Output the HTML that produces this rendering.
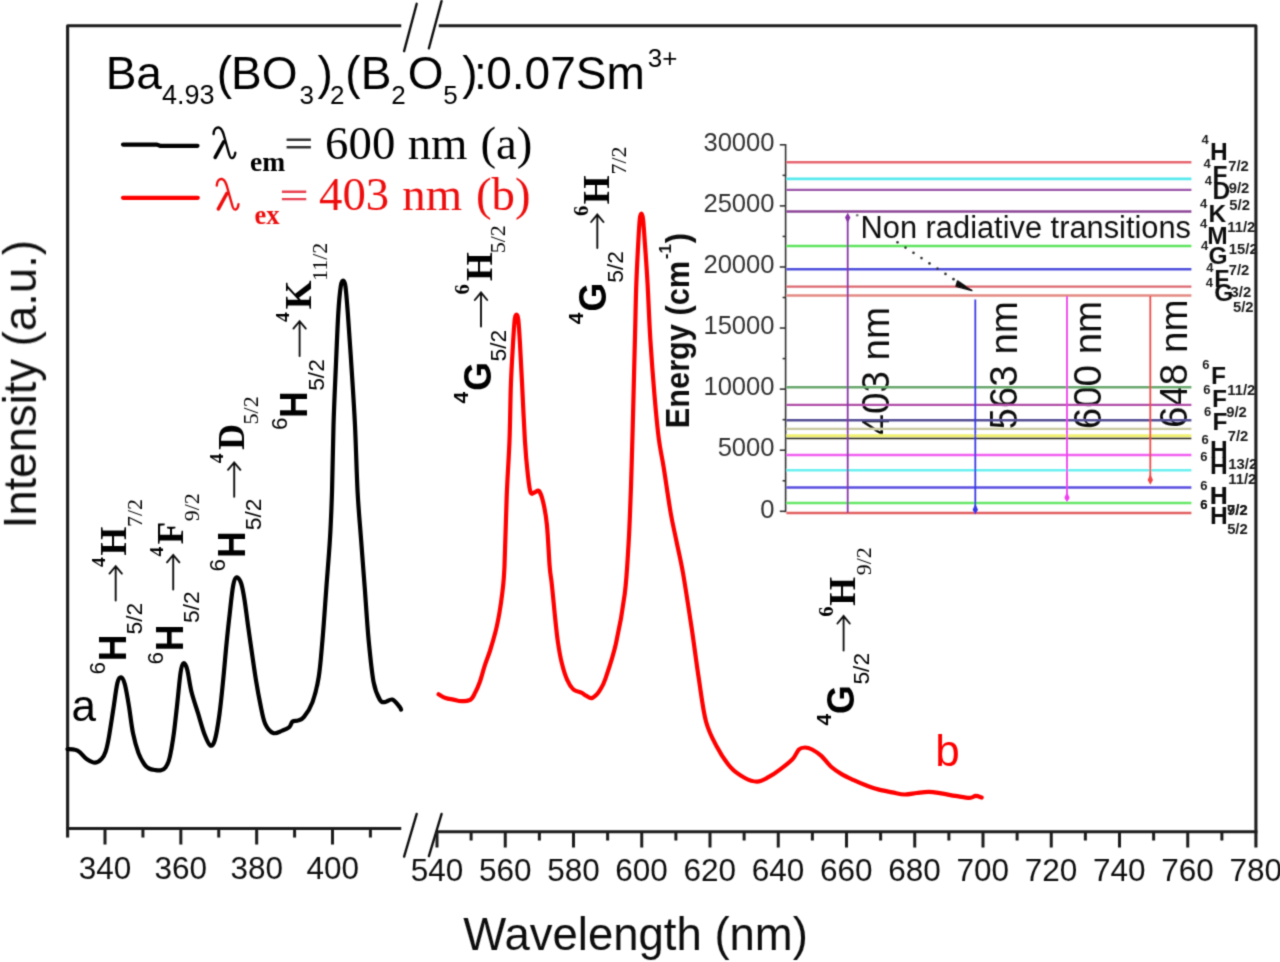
<!DOCTYPE html>
<html><head><meta charset="utf-8"><title>Ba4.93(BO3)2(B2O5):0.07Sm3+ spectra</title>
<style>html,body{margin:0;padding:0;background:#fff;} svg{display:block;will-change:transform;}</style></head>
<body><svg width="1280" height="962" viewBox="0 0 1280 962">
<defs><filter id="soft" x="0" y="0" width="1280" height="962" filterUnits="userSpaceOnUse"><feConvolveMatrix order="3" kernelMatrix="0.02768 0.11101 0.02768 0.11101 0.44521 0.11101 0.02768 0.11101 0.02768" divisor="1" edgeMode="none"/></filter></defs>
<rect x="0" y="0" width="1280" height="962" fill="#fff"/>
<g filter="url(#soft)">
<path d="M401.2,25.7 H67.6 V837.5" fill="none" stroke="#1c1c1c" stroke-width="3.1" stroke-linejoin="round"/>
<path d="M438.8,25.7 H1255.9 V847.5" fill="none" stroke="#1c1c1c" stroke-width="3.1" stroke-linejoin="round"/>
<line x1="66.10" y1="828.60" x2="401.20" y2="828.60" stroke="#1c1c1c" stroke-width="3.0" />
<line x1="436.50" y1="831.70" x2="1257.40" y2="831.70" stroke="#1c1c1c" stroke-width="3.0" />
<line x1="416.70" y1="3.80" x2="404.10" y2="51.10" stroke="#111" stroke-width="2.4" stroke-linecap="round"/>
<line x1="441.60" y1="0.90" x2="428.90" y2="48.30" stroke="#111" stroke-width="2.4" stroke-linecap="round"/>
<line x1="416.70" y1="813.90" x2="404.10" y2="856.60" stroke="#111" stroke-width="2.4" stroke-linecap="round"/>
<line x1="441.60" y1="813.90" x2="428.90" y2="856.10" stroke="#111" stroke-width="2.4" stroke-linecap="round"/>
<line x1="105.00" y1="828.60" x2="105.00" y2="844.50" stroke="#1c1c1c" stroke-width="3.0" />
<text x="78.74" y="879.00" font-family="Liberation Sans" font-weight="normal" font-size="31.5" fill="#111" >340</text>
<line x1="142.91" y1="828.60" x2="142.91" y2="837.50" stroke="#1c1c1c" stroke-width="3.0" />
<line x1="180.83" y1="828.60" x2="180.83" y2="844.50" stroke="#1c1c1c" stroke-width="3.0" />
<text x="154.57" y="879.00" font-family="Liberation Sans" font-weight="normal" font-size="31.5" fill="#111" >360</text>
<line x1="218.75" y1="828.60" x2="218.75" y2="837.50" stroke="#1c1c1c" stroke-width="3.0" />
<line x1="256.66" y1="828.60" x2="256.66" y2="844.50" stroke="#1c1c1c" stroke-width="3.0" />
<text x="230.40" y="879.00" font-family="Liberation Sans" font-weight="normal" font-size="31.5" fill="#111" >380</text>
<line x1="294.58" y1="828.60" x2="294.58" y2="837.50" stroke="#1c1c1c" stroke-width="3.0" />
<line x1="332.49" y1="828.60" x2="332.49" y2="844.50" stroke="#1c1c1c" stroke-width="3.0" />
<text x="306.47" y="879.00" font-family="Liberation Sans" font-weight="normal" font-size="31.5" fill="#111" >400</text>
<line x1="370.41" y1="828.60" x2="370.41" y2="837.50" stroke="#1c1c1c" stroke-width="3.0" />
<line x1="437.00" y1="831.70" x2="437.00" y2="847.50" stroke="#1c1c1c" stroke-width="3.0" />
<text x="410.71" y="881.00" font-family="Liberation Sans" font-weight="normal" font-size="31.5" fill="#111" >540</text>
<line x1="471.12" y1="831.70" x2="471.12" y2="840.50" stroke="#1c1c1c" stroke-width="3.0" />
<line x1="505.25" y1="831.70" x2="505.25" y2="847.50" stroke="#1c1c1c" stroke-width="3.0" />
<text x="478.96" y="881.00" font-family="Liberation Sans" font-weight="normal" font-size="31.5" fill="#111" >560</text>
<line x1="539.38" y1="831.70" x2="539.38" y2="840.50" stroke="#1c1c1c" stroke-width="3.0" />
<line x1="573.50" y1="831.70" x2="573.50" y2="847.50" stroke="#1c1c1c" stroke-width="3.0" />
<text x="547.21" y="881.00" font-family="Liberation Sans" font-weight="normal" font-size="31.5" fill="#111" >580</text>
<line x1="607.62" y1="831.70" x2="607.62" y2="840.50" stroke="#1c1c1c" stroke-width="3.0" />
<line x1="641.75" y1="831.70" x2="641.75" y2="847.50" stroke="#1c1c1c" stroke-width="3.0" />
<text x="615.29" y="881.00" font-family="Liberation Sans" font-weight="normal" font-size="31.5" fill="#111" >600</text>
<line x1="675.88" y1="831.70" x2="675.88" y2="840.50" stroke="#1c1c1c" stroke-width="3.0" />
<line x1="710.00" y1="831.70" x2="710.00" y2="847.50" stroke="#1c1c1c" stroke-width="3.0" />
<text x="683.54" y="881.00" font-family="Liberation Sans" font-weight="normal" font-size="31.5" fill="#111" >620</text>
<line x1="744.12" y1="831.70" x2="744.12" y2="840.50" stroke="#1c1c1c" stroke-width="3.0" />
<line x1="778.25" y1="831.70" x2="778.25" y2="847.50" stroke="#1c1c1c" stroke-width="3.0" />
<text x="751.79" y="881.00" font-family="Liberation Sans" font-weight="normal" font-size="31.5" fill="#111" >640</text>
<line x1="812.38" y1="831.70" x2="812.38" y2="840.50" stroke="#1c1c1c" stroke-width="3.0" />
<line x1="846.50" y1="831.70" x2="846.50" y2="847.50" stroke="#1c1c1c" stroke-width="3.0" />
<text x="820.04" y="881.00" font-family="Liberation Sans" font-weight="normal" font-size="31.5" fill="#111" >660</text>
<line x1="880.62" y1="831.70" x2="880.62" y2="840.50" stroke="#1c1c1c" stroke-width="3.0" />
<line x1="914.75" y1="831.70" x2="914.75" y2="847.50" stroke="#1c1c1c" stroke-width="3.0" />
<text x="888.29" y="881.00" font-family="Liberation Sans" font-weight="normal" font-size="31.5" fill="#111" >680</text>
<line x1="948.88" y1="831.70" x2="948.88" y2="840.50" stroke="#1c1c1c" stroke-width="3.0" />
<line x1="983.00" y1="831.70" x2="983.00" y2="847.50" stroke="#1c1c1c" stroke-width="3.0" />
<text x="956.53" y="881.00" font-family="Liberation Sans" font-weight="normal" font-size="31.5" fill="#111" >700</text>
<line x1="1017.12" y1="831.70" x2="1017.12" y2="840.50" stroke="#1c1c1c" stroke-width="3.0" />
<line x1="1051.25" y1="831.70" x2="1051.25" y2="847.50" stroke="#1c1c1c" stroke-width="3.0" />
<text x="1024.78" y="881.00" font-family="Liberation Sans" font-weight="normal" font-size="31.5" fill="#111" >720</text>
<line x1="1085.38" y1="831.70" x2="1085.38" y2="840.50" stroke="#1c1c1c" stroke-width="3.0" />
<line x1="1119.50" y1="831.70" x2="1119.50" y2="847.50" stroke="#1c1c1c" stroke-width="3.0" />
<text x="1093.03" y="881.00" font-family="Liberation Sans" font-weight="normal" font-size="31.5" fill="#111" >740</text>
<line x1="1153.62" y1="831.70" x2="1153.62" y2="840.50" stroke="#1c1c1c" stroke-width="3.0" />
<line x1="1187.75" y1="831.70" x2="1187.75" y2="847.50" stroke="#1c1c1c" stroke-width="3.0" />
<text x="1161.28" y="881.00" font-family="Liberation Sans" font-weight="normal" font-size="31.5" fill="#111" >760</text>
<line x1="1221.88" y1="831.70" x2="1221.88" y2="840.50" stroke="#1c1c1c" stroke-width="3.0" />
<text x="1229.53" y="881.00" font-family="Liberation Sans" font-weight="normal" font-size="31.5" fill="#111" >780</text>
<text x="463.20" y="950.00" font-family="Liberation Sans" font-weight="normal" font-size="45.5" fill="#111" >Wavelength (nm)</text>
<text transform="translate(35.90,528.40) rotate(-90)" font-family="Liberation Sans" font-weight="normal" font-size="45.5" fill="#111">Intensity (a.u.)</text>
<text x="105.63" y="88.60" font-family="Liberation Sans" font-weight="normal" font-size="46" fill="#000" >Ba</text>
<text x="162.08" y="103.80" font-family="Liberation Sans" font-weight="normal" font-size="27" fill="#000" >4.93</text>
<text x="216.65" y="88.60" font-family="Liberation Sans" font-weight="normal" font-size="46" fill="#000" >(</text>
<text x="231.03" y="88.60" font-family="Liberation Sans" font-weight="normal" font-size="46" fill="#000" >BO</text>
<text x="299.41" y="103.80" font-family="Liberation Sans" font-weight="normal" font-size="26" fill="#000" >3</text>
<text x="317.53" y="88.60" font-family="Liberation Sans" font-weight="normal" font-size="46" fill="#000" >)</text>
<text x="329.99" y="103.80" font-family="Liberation Sans" font-weight="normal" font-size="26" fill="#000" >2</text>
<text x="345.25" y="88.60" font-family="Liberation Sans" font-weight="normal" font-size="46" fill="#000" >(</text>
<text x="360.63" y="88.60" font-family="Liberation Sans" font-weight="normal" font-size="46" fill="#000" >B</text>
<text x="391.19" y="103.80" font-family="Liberation Sans" font-weight="normal" font-size="26" fill="#000" >2</text>
<text x="407.82" y="88.60" font-family="Liberation Sans" font-weight="normal" font-size="46" fill="#000" >O</text>
<text x="443.36" y="103.80" font-family="Liberation Sans" font-weight="normal" font-size="26" fill="#000" >5</text>
<text x="462.23" y="88.60" font-family="Liberation Sans" font-weight="normal" font-size="46" fill="#000" >)</text>
<text x="473.90" y="88.60" font-family="Liberation Sans" font-weight="normal" font-size="46" fill="#000" >:</text>
<text x="486.20" y="88.60" font-family="Liberation Sans" font-weight="normal" font-size="46" fill="#000" >0.07Sm</text>
<text x="647.71" y="67.00" font-family="Liberation Sans" font-weight="normal" font-size="26" fill="#000" >3+</text>
<path d="M123,144.6 H157 L160,145.8 H197.5" fill="none" stroke="#000" stroke-width="4.2" stroke-linecap="round" stroke-linejoin="round"/>
<line x1="123.00" y1="197.80" x2="197.80" y2="197.80" stroke="#ff0000" stroke-width="4.2" stroke-linecap="round"/>
<g transform="translate(0,0)" fill="none" stroke="#000" stroke-linecap="round"><path d="M213.6,134 C213.6,129.5 216,127.2 218.7,127.5 C221,127.8 222.3,130.5 223.5,134 L228.5,152 C229.5,156 230.5,158.3 232,158.1 C233.8,157.8 235,155.5 235.3,152.6" stroke-width="2.4"/><path d="M223.6,142 L215.2,157.4" stroke-width="3.6"/></g>
<text x="249.96" y="171.40" font-family="Liberation Serif" font-weight="bold" font-size="27.5" fill="#000" >em</text>
<path d="M286.6,139.7 H310.9 M286.6,147.2 H310.9" stroke="#333" stroke-width="2.4"/>
<text x="325.09" y="158.60" font-family="Liberation Serif" font-weight="normal" font-size="46.8" fill="#000" >600</text>
<text x="407.73" y="158.60" font-family="Liberation Serif" font-weight="normal" font-size="46.8" fill="#000" >nm</text>
<text x="480.44" y="158.60" font-family="Liberation Serif" font-weight="normal" font-size="46.8" fill="#000" >(a)</text>
<g transform="translate(3.2,51.5)" fill="none" stroke="#ee1111" stroke-linecap="round"><path d="M213.6,134 C213.6,129.5 216,127.2 218.7,127.5 C221,127.8 222.3,130.5 223.5,134 L228.5,152 C229.5,156 230.5,158.3 232,158.1 C233.8,157.8 235,155.5 235.3,152.6" stroke-width="2.4"/><path d="M223.6,142 L215.2,157.4" stroke-width="3.6"/></g>
<text x="254.39" y="223.60" font-family="Liberation Serif" font-weight="bold" font-size="26.5" fill="#ee1111" >ex</text>
<path d="M281.9,191.75 H306.25 M281.9,199.1 H306.25" stroke="#e84050" stroke-width="2.4"/>
<text x="318.99" y="209.50" font-family="Liberation Serif" font-weight="normal" font-size="46.8" fill="#ee1111" >403</text>
<text x="402.33" y="209.50" font-family="Liberation Serif" font-weight="normal" font-size="46.8" fill="#ee1111" >nm</text>
<text x="475.94" y="209.50" font-family="Liberation Serif" font-weight="normal" font-size="46.8" fill="#ee1111" >(b)</text>
<text x="71.43" y="720.70" font-family="Liberation Sans" font-weight="normal" font-size="44" fill="#000" >a</text>
<text x="935.16" y="766.00" font-family="Liberation Sans" font-weight="normal" font-size="44" fill="#ff0000" >b</text>
<path d="M67.5,749.0 C68.8,749.1 72.9,749.2 75.0,749.8 C77.1,750.3 78.1,750.8 80.0,752.3 C81.9,753.8 84.1,757.2 86.6,758.9 C89.1,760.6 92.4,762.7 94.9,762.7 C97.4,762.7 99.8,760.8 101.6,758.9 C103.4,757.0 104.5,755.1 105.7,751.4 C106.9,747.7 107.8,743.4 109.0,736.5 C110.2,729.6 111.8,718.8 113.2,709.9 C114.6,701.0 116.1,688.4 117.4,683.0 C118.7,677.6 120.0,677.0 121.2,677.3 C122.5,677.5 123.6,679.6 124.9,684.5 C126.2,689.4 127.7,698.4 129.0,706.5 C130.3,714.6 131.4,725.3 133.0,733.1 C134.6,740.9 136.6,747.9 138.5,753.1 C140.4,758.3 142.8,761.9 144.5,764.5 C146.2,767.1 147.2,767.6 149.0,768.5 C150.8,769.4 153.0,769.7 155.0,770.0 C157.0,770.3 159.2,770.7 161.0,770.3 C162.8,769.9 164.2,769.2 165.5,767.5 C166.8,765.8 168.1,762.9 169.0,760.0 C169.9,757.1 170.4,754.5 171.2,750.0 C172.0,745.5 172.9,740.9 173.9,733.1 C174.9,725.3 176.2,713.3 177.3,703.2 C178.4,693.1 179.6,679.1 180.6,672.5 C181.6,665.9 182.3,663.8 183.4,663.3 C184.5,662.8 185.9,664.8 187.2,669.5 C188.5,674.2 189.6,684.3 191.4,691.6 C193.2,698.9 195.8,706.0 198.0,713.2 C200.2,720.4 202.6,729.4 204.7,734.8 C206.8,740.2 208.6,744.7 210.3,745.5 C212.0,746.3 213.4,744.9 214.9,739.8 C216.4,734.6 218.1,724.1 219.4,714.6 C220.7,705.1 221.8,694.0 222.9,682.6 C224.1,671.2 225.2,657.4 226.3,646.0 C227.4,634.6 228.5,624.1 229.7,614.0 C230.8,603.9 232.0,591.6 233.2,585.5 C234.3,579.4 235.3,577.6 236.6,577.3 C237.9,577.0 239.9,579.7 241.2,583.5 C242.5,587.3 243.5,593.3 244.6,600.3 C245.7,607.3 246.7,616.0 248.0,625.5 C249.3,635.0 251.3,648.4 252.6,657.5 C253.9,666.6 254.7,672.3 256.0,680.3 C257.3,688.3 259.1,698.2 260.6,705.5 C262.1,712.8 263.1,719.2 265.2,723.8 C267.3,728.4 270.3,731.9 273.2,733.0 C276.1,734.1 279.6,731.6 282.3,730.6 C285.0,729.6 287.5,728.7 289.2,727.2 C290.9,725.7 291.1,722.6 292.6,721.5 C294.1,720.4 296.4,721.2 298.3,720.4 C300.2,719.6 301.6,719.9 304.0,716.9 C306.4,713.9 310.1,708.7 312.5,702.1 C314.9,695.5 317.0,687.5 318.7,677.1 C320.4,666.7 321.2,654.2 322.5,639.7 C323.8,625.2 325.0,606.4 326.2,589.8 C327.4,573.2 328.9,556.2 329.9,539.9 C330.9,523.6 331.4,511.1 332.0,492.0 C332.6,472.9 332.9,446.6 333.5,425.5 C334.1,404.4 335.1,384.4 335.9,365.7 C336.7,346.9 337.5,326.3 338.3,313.0 C339.1,299.7 340.0,291.4 340.8,286.0 C341.6,280.6 342.3,280.5 343.1,280.5 C343.9,280.5 344.6,280.6 345.4,286.0 C346.2,291.4 346.8,299.7 347.8,313.0 C348.8,326.3 350.2,346.9 351.4,365.7 C352.6,384.4 354.0,404.4 355.0,425.5 C356.0,446.6 356.6,472.9 357.6,492.0 C358.6,511.1 359.9,523.6 361.1,539.9 C362.3,556.2 363.6,573.2 364.9,589.8 C366.1,606.4 367.2,624.3 368.6,639.7 C370.1,655.1 371.7,672.1 373.6,682.1 C375.5,692.1 377.9,696.3 379.8,699.6 C381.7,702.9 382.7,702.1 384.8,702.1 C386.9,702.1 389.8,698.8 392.3,699.6 C394.8,700.4 398.4,705.4 399.8,707.1 C401.2,708.8 400.8,709.2 401.0,709.6" fill="none" stroke="#000" stroke-width="4.2" stroke-linejoin="round" stroke-linecap="round" />
<path d="M438.6,694.2 C439.8,694.9 443.1,697.2 445.6,698.1 C448.1,699.0 450.8,699.1 453.4,699.6 C456.0,700.1 458.3,701.2 461.2,701.2 C464.1,701.2 468.3,701.0 470.6,699.6 C472.9,698.2 473.6,695.6 475.2,692.6 C476.8,689.6 478.3,686.1 479.9,681.7 C481.5,677.3 482.9,671.3 484.6,666.1 C486.3,660.9 488.3,656.2 490.1,650.5 C491.9,644.8 493.9,638.0 495.5,631.8 C497.1,625.5 498.2,619.8 499.4,613.0 C500.6,606.2 501.6,599.0 502.5,591.2 C503.4,583.4 503.8,581.8 504.5,566.0 C505.2,550.2 505.9,517.5 506.7,496.6 C507.5,475.7 508.8,459.1 509.5,440.4 C510.2,421.7 510.3,400.7 510.9,384.3 C511.5,367.9 512.5,353.0 513.1,342.1 C513.8,331.2 514.2,323.6 514.8,319.0 C515.4,314.4 515.9,314.6 516.5,314.6 C517.1,314.6 517.6,314.4 518.2,319.0 C518.8,323.6 519.2,331.2 519.9,342.1 C520.5,353.0 521.3,367.9 522.1,384.3 C522.9,400.7 524.0,425.4 524.9,440.4 C525.8,455.4 526.8,465.5 527.8,474.2 C528.8,482.9 529.4,489.4 530.6,492.4 C531.8,495.4 533.4,492.6 534.8,492.4 C536.2,492.2 537.6,489.4 539.0,491.0 C540.4,492.6 541.9,496.6 543.2,502.2 C544.5,507.8 545.8,513.9 546.9,524.7 C548.0,535.5 548.9,557.1 549.7,566.9 C550.5,576.7 550.9,575.4 551.7,583.4 C552.6,591.4 553.8,604.7 554.8,614.6 C555.8,624.5 556.8,634.6 558.0,642.7 C559.2,650.8 560.2,656.8 561.8,663.0 C563.3,669.2 565.3,675.7 567.3,680.1 C569.2,684.5 571.2,687.4 573.5,689.5 C575.8,691.6 579.2,691.6 581.3,692.6 C583.4,693.6 584.3,694.8 586.0,695.7 C587.7,696.6 589.7,698.4 591.5,698.1 C593.3,697.9 595.5,695.6 596.9,694.2 C598.3,692.9 598.6,692.5 600.0,690.0 C601.4,687.5 602.6,686.8 605.3,679.1 C607.9,671.4 612.7,657.8 615.9,643.7 C619.1,629.6 622.6,610.8 624.7,594.3 C626.8,577.8 627.5,560.7 628.5,545.0 C629.5,529.3 630.0,513.0 630.5,500.0 C631.0,487.0 631.1,484.1 631.6,466.9 C632.1,449.7 633.0,417.7 633.5,396.6 C634.0,375.5 634.4,359.1 634.9,340.4 C635.4,321.7 635.7,300.7 636.3,284.3 C636.9,267.9 637.7,253.0 638.3,242.1 C638.9,231.2 639.3,223.8 639.8,219.0 C640.3,214.2 640.9,213.6 641.4,213.6 C641.9,213.6 642.4,214.2 643.0,219.0 C643.6,223.8 644.0,231.2 644.8,242.1 C645.6,253.0 646.7,267.9 647.6,284.3 C648.5,300.7 649.2,321.7 650.4,340.4 C651.6,359.1 653.2,380.2 654.6,396.6 C656.0,413.0 657.3,427.1 658.8,438.8 C660.3,450.5 661.6,454.5 663.6,466.9 C665.6,479.3 668.6,500.8 670.7,513.0 C672.8,525.2 674.2,530.0 676.2,540.0 C678.2,550.0 680.4,558.1 683.0,573.0 C685.6,587.9 689.2,611.9 691.9,629.6 C694.5,647.3 696.5,663.8 698.9,679.1 C701.2,694.4 703.0,710.3 706.0,721.5 C709.0,732.7 712.5,738.6 716.6,746.2 C720.7,753.9 726.0,762.1 730.7,767.4 C735.4,772.7 740.5,775.6 744.9,778.0 C749.3,780.4 753.3,781.7 757.2,781.6 C761.1,781.5 764.5,779.3 768.4,777.2 C772.3,775.1 776.5,772.2 780.6,769.1 C784.7,766.0 789.8,762.2 792.8,758.9 C795.8,755.6 796.9,751.4 798.9,749.5 C800.9,747.6 802.8,747.5 805.0,747.5 C807.2,747.5 809.4,748.1 812.1,749.5 C814.8,750.9 818.1,753.0 821.3,755.9 C824.5,758.8 828.0,764.0 831.4,767.0 C834.8,770.0 837.9,771.9 841.6,774.1 C845.3,776.3 849.8,778.3 853.8,780.2 C857.8,782.1 861.8,783.8 865.9,785.3 C870.0,786.8 873.7,788.2 878.1,789.4 C882.5,790.6 887.9,791.5 892.3,792.4 C896.7,793.2 900.4,794.4 904.5,794.5 C908.6,794.6 912.6,793.5 916.7,793.0 C920.8,792.5 924.8,791.7 928.9,791.8 C933.0,791.9 936.7,792.7 941.1,793.4 C945.5,794.1 950.6,795.1 955.3,795.9 C960.0,796.6 966.1,797.9 969.5,797.9 C972.9,797.9 973.6,796.0 975.6,795.9 C977.6,795.8 980.7,797.2 981.7,797.5" fill="none" stroke="#ff0000" stroke-width="4.2" stroke-linejoin="round" stroke-linecap="round" />
<text transform="translate(105.10,674.44) rotate(-90)" font-family="Liberation Sans" font-weight="normal" font-size="22.5" fill="#000">6</text>
<text transform="translate(126.20,661.28) rotate(-90) scale(1,1.06)" font-family="Liberation Sans" font-weight="bold" font-size="37" fill="#000">H</text>
<text transform="translate(142.10,634.41) rotate(-90)" font-family="Liberation Sans" font-weight="normal" font-size="22.8" fill="#000">5/2</text>
<path d="M115.7,600.6 V566.2 M109.5,573.6 L115.7,566.2 L121.9,573.6" fill="none" stroke="#111" stroke-width="1.9" stroke-linecap="round" stroke-linejoin="miter"/>
<text transform="translate(105.00,567.07) rotate(-90)" font-family="Liberation Serif" font-weight="bold" font-size="19.5" fill="#000">4</text>
<text transform="translate(125.60,555.53) rotate(-90) scale(1,1.05)" font-family="Liberation Serif" font-weight="bold" font-size="37" fill="#000">H</text>
<text transform="translate(141.80,527.05) rotate(-90)" font-family="Liberation Serif" font-weight="normal" font-size="22" fill="#000">7/2</text>
<text transform="translate(162.50,664.44) rotate(-90)" font-family="Liberation Sans" font-weight="normal" font-size="22.5" fill="#000">6</text>
<text transform="translate(183.00,651.28) rotate(-90) scale(1,1.06)" font-family="Liberation Sans" font-weight="bold" font-size="37" fill="#000">H</text>
<text transform="translate(199.40,623.01) rotate(-90)" font-family="Liberation Sans" font-weight="normal" font-size="22.8" fill="#000">5/2</text>
<path d="M173.2,589.6 V554.9 M167.0,562.3 L173.2,554.9 L179.4,562.3" fill="none" stroke="#111" stroke-width="1.9" stroke-linecap="round" stroke-linejoin="miter"/>
<text transform="translate(162.50,556.47) rotate(-90)" font-family="Liberation Serif" font-weight="bold" font-size="19.5" fill="#000">4</text>
<text transform="translate(183.10,544.33) rotate(-90) scale(1,1.05)" font-family="Liberation Serif" font-weight="bold" font-size="37" fill="#000">F</text>
<text transform="translate(199.30,521.31) rotate(-90)" font-family="Liberation Serif" font-weight="normal" font-size="22" fill="#000">9/2</text>
<text transform="translate(224.80,571.54) rotate(-90)" font-family="Liberation Sans" font-weight="normal" font-size="22.5" fill="#000">6</text>
<text transform="translate(245.40,557.98) rotate(-90) scale(1,1.06)" font-family="Liberation Sans" font-weight="bold" font-size="37" fill="#000">H</text>
<text transform="translate(260.80,530.21) rotate(-90)" font-family="Liberation Sans" font-weight="normal" font-size="22.8" fill="#000">5/2</text>
<path d="M234.2,496.8 V462.4 M228.0,469.8 L234.2,462.4 L240.4,469.8" fill="none" stroke="#111" stroke-width="1.9" stroke-linecap="round" stroke-linejoin="miter"/>
<text transform="translate(222.50,463.27) rotate(-90)" font-family="Liberation Serif" font-weight="bold" font-size="19.5" fill="#000">4</text>
<text transform="translate(243.70,449.93) rotate(-90) scale(1,1.05)" font-family="Liberation Serif" font-weight="bold" font-size="36" fill="#000">D</text>
<text transform="translate(258.00,424.38) rotate(-90)" font-family="Liberation Serif" font-weight="normal" font-size="22" fill="#000">5/2</text>
<text transform="translate(286.80,430.04) rotate(-90)" font-family="Liberation Sans" font-weight="normal" font-size="22.5" fill="#000">6</text>
<text transform="translate(307.10,417.88) rotate(-90) scale(1,1.06)" font-family="Liberation Sans" font-weight="bold" font-size="37" fill="#000">H</text>
<text transform="translate(324.30,390.81) rotate(-90)" font-family="Liberation Sans" font-weight="normal" font-size="22.8" fill="#000">5/2</text>
<path d="M299.6,356.1 V321.2 M293.4,328.6 L299.6,321.2 L305.8,328.6" fill="none" stroke="#111" stroke-width="1.9" stroke-linecap="round" stroke-linejoin="miter"/>
<text transform="translate(288.70,322.07) rotate(-90)" font-family="Liberation Serif" font-weight="bold" font-size="19.5" fill="#000">4</text>
<text transform="translate(310.60,309.33) rotate(-90) scale(1,1.05)" font-family="Liberation Serif" font-weight="bold" font-size="37" fill="#000">K</text>
<text transform="translate(326.80,280.93) rotate(-90)" font-family="Liberation Serif" font-weight="normal" font-size="22" fill="#000">11/2</text>
<text transform="translate(468.40,403.62) rotate(-90)" font-family="Liberation Sans" font-weight="bold" font-size="21" fill="#000">4</text>
<text transform="translate(490.60,390.82) rotate(-90) scale(1,1.06)" font-family="Liberation Sans" font-weight="bold" font-size="37" fill="#000">G</text>
<text transform="translate(506.20,361.51) rotate(-90)" font-family="Liberation Sans" font-weight="normal" font-size="22.8" fill="#000">5/2</text>
<path d="M481.0,326.6 V292.6 M474.8,300.0 L481.0,292.6 L487.2,300.0" fill="none" stroke="#111" stroke-width="1.9" stroke-linecap="round" stroke-linejoin="miter"/>
<text transform="translate(468.60,294.60) rotate(-90)" font-family="Liberation Serif" font-weight="bold" font-size="20.5" fill="#000">6</text>
<text transform="translate(491.60,281.03) rotate(-90) scale(1,1.05)" font-family="Liberation Serif" font-weight="bold" font-size="37" fill="#000">H</text>
<text transform="translate(505.10,253.28) rotate(-90)" font-family="Liberation Serif" font-weight="normal" font-size="22" fill="#000">5/2</text>
<text transform="translate(582.80,324.22) rotate(-90)" font-family="Liberation Sans" font-weight="bold" font-size="21" fill="#000">4</text>
<text transform="translate(606.20,311.42) rotate(-90) scale(1,1.06)" font-family="Liberation Sans" font-weight="bold" font-size="37" fill="#000">G</text>
<text transform="translate(623.00,282.71) rotate(-90)" font-family="Liberation Sans" font-weight="normal" font-size="22.8" fill="#000">5/2</text>
<path d="M597.3,248.1 V214.6 M591.1,222.0 L597.3,214.6 L603.5,222.0" fill="none" stroke="#111" stroke-width="1.9" stroke-linecap="round" stroke-linejoin="miter"/>
<text transform="translate(588.30,216.00) rotate(-90)" font-family="Liberation Serif" font-weight="bold" font-size="20.5" fill="#000">6</text>
<text transform="translate(609.40,204.33) rotate(-90) scale(1,1.05)" font-family="Liberation Serif" font-weight="bold" font-size="37" fill="#000">H</text>
<text transform="translate(626.10,174.55) rotate(-90)" font-family="Liberation Serif" font-weight="normal" font-size="22" fill="#000">7/2</text>
<text transform="translate(831.00,725.52) rotate(-90)" font-family="Liberation Sans" font-weight="bold" font-size="21" fill="#000">4</text>
<text transform="translate(854.30,713.92) rotate(-90) scale(1,1.06)" font-family="Liberation Sans" font-weight="bold" font-size="37" fill="#000">G</text>
<text transform="translate(869.30,684.61) rotate(-90)" font-family="Liberation Sans" font-weight="normal" font-size="22.8" fill="#000">5/2</text>
<path d="M843.6,650.5 V616.1 M837.4,623.5 L843.6,616.1 L849.8,623.5" fill="none" stroke="#111" stroke-width="1.9" stroke-linecap="round" stroke-linejoin="miter"/>
<text transform="translate(833.40,616.70) rotate(-90)" font-family="Liberation Serif" font-weight="bold" font-size="20.5" fill="#000">6</text>
<text transform="translate(855.20,605.83) rotate(-90) scale(1,1.05)" font-family="Liberation Serif" font-weight="bold" font-size="37" fill="#000">H</text>
<text transform="translate(871.20,575.31) rotate(-90)" font-family="Liberation Serif" font-weight="normal" font-size="22" fill="#000">9/2</text>
<line x1="785.60" y1="144.00" x2="785.60" y2="512.20" stroke="#333" stroke-width="1.6" />
<line x1="779.80" y1="511.30" x2="785.60" y2="511.30" stroke="#333" stroke-width="1.6" />
<text x="760.36" y="517.50" font-family="Liberation Sans" font-weight="normal" font-size="25.6" fill="#333" >0</text>
<line x1="782.60" y1="480.76" x2="785.60" y2="480.76" stroke="#333" stroke-width="1.6" />
<line x1="779.80" y1="450.22" x2="785.60" y2="450.22" stroke="#333" stroke-width="1.6" />
<text x="717.65" y="456.42" font-family="Liberation Sans" font-weight="normal" font-size="25.6" fill="#333" >5000</text>
<line x1="782.60" y1="419.68" x2="785.60" y2="419.68" stroke="#333" stroke-width="1.6" />
<line x1="779.80" y1="389.13" x2="785.60" y2="389.13" stroke="#333" stroke-width="1.6" />
<text x="703.41" y="395.33" font-family="Liberation Sans" font-weight="normal" font-size="25.6" fill="#333" >10000</text>
<line x1="782.60" y1="358.59" x2="785.60" y2="358.59" stroke="#333" stroke-width="1.6" />
<line x1="779.80" y1="328.05" x2="785.60" y2="328.05" stroke="#333" stroke-width="1.6" />
<text x="703.41" y="334.25" font-family="Liberation Sans" font-weight="normal" font-size="25.6" fill="#333" >15000</text>
<line x1="782.60" y1="297.51" x2="785.60" y2="297.51" stroke="#333" stroke-width="1.6" />
<line x1="779.80" y1="266.97" x2="785.60" y2="266.97" stroke="#333" stroke-width="1.6" />
<text x="703.41" y="273.17" font-family="Liberation Sans" font-weight="normal" font-size="25.6" fill="#333" >20000</text>
<line x1="782.60" y1="236.43" x2="785.60" y2="236.43" stroke="#333" stroke-width="1.6" />
<line x1="779.80" y1="205.88" x2="785.60" y2="205.88" stroke="#333" stroke-width="1.6" />
<text x="703.41" y="212.08" font-family="Liberation Sans" font-weight="normal" font-size="25.6" fill="#333" >25000</text>
<line x1="782.60" y1="175.34" x2="785.60" y2="175.34" stroke="#333" stroke-width="1.6" />
<line x1="779.80" y1="144.80" x2="785.60" y2="144.80" stroke="#333" stroke-width="1.6" />
<text x="703.41" y="151.00" font-family="Liberation Sans" font-weight="normal" font-size="25.6" fill="#333" >30000</text>
<text transform="translate(889.40,435.38) rotate(-90)" font-family="Liberation Sans" font-weight="normal" font-size="38.5" fill="#111">403 nm</text>
<text transform="translate(1016.60,429.54) rotate(-90)" font-family="Liberation Sans" font-weight="normal" font-size="38.5" fill="#111">563 nm</text>
<text transform="translate(1100.80,429.26) rotate(-90)" font-family="Liberation Sans" font-weight="normal" font-size="38.5" fill="#111">600 nm</text>
<text transform="translate(1187.30,427.96) rotate(-90)" font-family="Liberation Sans" font-weight="normal" font-size="38.5" fill="#111">648 nm</text>
<line x1="786.40" y1="162.20" x2="1191.40" y2="162.20" stroke="#e66670" stroke-width="2.4" />
<line x1="786.40" y1="178.90" x2="1191.40" y2="178.90" stroke="#56eaee" stroke-width="2.6" />
<line x1="786.40" y1="189.80" x2="1191.40" y2="189.80" stroke="#9c56aa" stroke-width="2.3" />
<line x1="786.40" y1="211.60" x2="1191.40" y2="211.60" stroke="#8c4496" stroke-width="2.5" />
<line x1="786.40" y1="246.00" x2="1191.40" y2="246.00" stroke="#5ee45e" stroke-width="2.5" />
<line x1="786.40" y1="269.20" x2="1191.40" y2="269.20" stroke="#5050dc" stroke-width="2.5" />
<line x1="786.40" y1="286.60" x2="1191.40" y2="286.60" stroke="#dc6870" stroke-width="2.3" />
<line x1="786.40" y1="295.50" x2="1191.40" y2="295.50" stroke="#e48a84" stroke-width="2.3" />
<line x1="786.40" y1="387.30" x2="1191.40" y2="387.30" stroke="#6aa86e" stroke-width="2.5" />
<line x1="786.40" y1="404.90" x2="1191.40" y2="404.90" stroke="#b050a8" stroke-width="2.3" />
<line x1="786.40" y1="420.20" x2="1191.40" y2="420.20" stroke="#545094" stroke-width="2.5" />
<line x1="786.40" y1="428.90" x2="1191.40" y2="428.90" stroke="#c8c8a0" stroke-width="2.1" />
<line x1="786.40" y1="435.60" x2="1191.40" y2="435.60" stroke="#f0f070" stroke-width="2.7" />
<line x1="786.40" y1="438.40" x2="1191.40" y2="438.40" stroke="#303028" stroke-width="1.9" />
<line x1="786.40" y1="455.00" x2="1191.40" y2="455.00" stroke="#f060f0" stroke-width="2.3" />
<line x1="786.40" y1="470.30" x2="1191.40" y2="470.30" stroke="#6af0f0" stroke-width="2.5" />
<line x1="786.40" y1="487.50" x2="1191.40" y2="487.50" stroke="#5850e0" stroke-width="2.5" />
<line x1="786.40" y1="503.10" x2="1191.40" y2="503.10" stroke="#66e866" stroke-width="2.5" />
<line x1="786.40" y1="513.00" x2="1191.40" y2="513.00" stroke="#e46060" stroke-width="2.3" />
<path d="M847.7,512.8 V216" stroke="#8a35a8" stroke-width="1.8" fill="none"/>
<path d="M847.7,212.8 L850.4000000000001,217.4 L847.7,223 L845.0,217.4 Z" fill="#8a35a8"/>
<path d="M975.3,299.5 V510" stroke="#3838e6" stroke-width="1.8" fill="none"/>
<path d="M975.3,514.5 L978.0,509.8 L975.3,504 L972.5999999999999,509.8 Z" fill="#3838e6"/>
<path d="M1067,296 V498" stroke="#f040f0" stroke-width="1.8" fill="none"/>
<path d="M1067,502.2 L1069.7,497.7 L1067,492.2 L1064.3,497.7 Z" fill="#f040f0"/>
<path d="M1150.3,296 V480" stroke="#f04848" stroke-width="1.8" fill="none"/>
<path d="M1150.3,484.7 L1153.0,480.0 L1150.3,474.2 L1147.6,480.0 Z" fill="#f04848"/>
<text transform="translate(689.10,428.15) rotate(-90) scale(1,1.07)" font-family="Liberation Sans" font-weight="bold" font-size="30.7" fill="#111">Energy (cm</text>
<text transform="translate(671.30,259.26) rotate(-90)" font-family="Liberation Sans" font-weight="bold" font-size="17" fill="#111">-1</text>
<text transform="translate(689.10,243.33) rotate(-90) scale(1,1.07)" font-family="Liberation Sans" font-weight="bold" font-size="30.7" fill="#111">)</text>
<text x="860.57" y="237.80" font-family="Liberation Sans" font-weight="normal" font-size="30.8" fill="#111" >Non radiative transitions</text>
<circle cx="857.2" cy="215.3" r="1.3" fill="#777"/>
<circle cx="897.5" cy="242.3" r="1.35" fill="#333"/>
<circle cx="905.5" cy="247.6" r="1.35" fill="#333"/>
<circle cx="913.5" cy="252.8" r="1.35" fill="#333"/>
<circle cx="921.5" cy="258.1" r="1.35" fill="#333"/>
<circle cx="929.5" cy="263.4" r="1.35" fill="#333"/>
<circle cx="937.5" cy="268.7" r="1.35" fill="#333"/>
<circle cx="945.5" cy="273.9" r="1.35" fill="#333"/>
<circle cx="953.5" cy="279.2" r="1.35" fill="#333"/>
<path d="M957.5,280.8 L972,290.6 L955.8,286.5 Z" fill="#111" stroke="#111" stroke-width="1.2" stroke-linejoin="round"/>
<text x="1201.60" y="144.00" font-family="Liberation Sans" font-weight="bold" font-size="13" fill="#1a1a1a" >4</text>
<text x="1209.96" y="160.20" font-family="Liberation Sans" font-weight="bold" font-size="24.5" fill="#111" >H</text>
<text x="1228.16" y="171.10" font-family="Liberation Sans" font-weight="bold" font-size="14.8" fill="#1a1a1a" >7/2</text>
<text x="1203.60" y="168.00" font-family="Liberation Sans" font-weight="bold" font-size="13" fill="#1a1a1a" >4</text>
<text x="1212.56" y="182.50" font-family="Liberation Sans" font-weight="bold" font-size="24.5" fill="#111" >F</text>
<text x="1228.79" y="193.40" font-family="Liberation Sans" font-weight="bold" font-size="14.8" fill="#1a1a1a" >9/2</text>
<text x="1204.70" y="185.10" font-family="Liberation Sans" font-weight="bold" font-size="13" fill="#1a1a1a" >4</text>
<text x="1212.56" y="199.20" font-family="Liberation Sans" font-weight="bold" font-size="24.5" fill="#111" >D</text>
<text x="1229.34" y="210.10" font-family="Liberation Sans" font-weight="bold" font-size="14.8" fill="#1a1a1a" >5/2</text>
<text x="1200.00" y="208.00" font-family="Liberation Sans" font-weight="bold" font-size="13" fill="#1a1a1a" >4</text>
<text x="1208.46" y="222.20" font-family="Liberation Sans" font-weight="bold" font-size="24.5" fill="#111" >K</text>
<text x="1227.37" y="231.60" font-family="Liberation Sans" font-weight="bold" font-size="14.8" fill="#1a1a1a" >11/2</text>
<text x="1200.00" y="228.00" font-family="Liberation Sans" font-weight="bold" font-size="13" fill="#1a1a1a" >4</text>
<text x="1207.36" y="244.10" font-family="Liberation Sans" font-weight="bold" font-size="24.5" fill="#111" >M</text>
<text x="1228.87" y="254.00" font-family="Liberation Sans" font-weight="bold" font-size="14.8" fill="#1a1a1a" >15/2</text>
<text x="1201.00" y="250.40" font-family="Liberation Sans" font-weight="bold" font-size="13" fill="#1a1a1a" >4</text>
<text x="1208.60" y="264.40" font-family="Liberation Sans" font-weight="bold" font-size="24.5" fill="#111" >G</text>
<text x="1228.66" y="275.30" font-family="Liberation Sans" font-weight="bold" font-size="14.8" fill="#1a1a1a" >7/2</text>
<text x="1206.20" y="271.70" font-family="Liberation Sans" font-weight="bold" font-size="13" fill="#1a1a1a" >4</text>
<text x="1214.16" y="286.80" font-family="Liberation Sans" font-weight="bold" font-size="24.5" fill="#111" >F</text>
<text x="1230.56" y="297.20" font-family="Liberation Sans" font-weight="bold" font-size="14.8" fill="#1a1a1a" >3/2</text>
<text x="1205.70" y="286.80" font-family="Liberation Sans" font-weight="bold" font-size="13" fill="#1a1a1a" >4</text>
<text x="1214.30" y="301.30" font-family="Liberation Sans" font-weight="bold" font-size="24.5" fill="#111" >G</text>
<text x="1233.04" y="311.70" font-family="Liberation Sans" font-weight="bold" font-size="14.8" fill="#1a1a1a" >5/2</text>
<text x="1202.32" y="369.00" font-family="Liberation Sans" font-weight="bold" font-size="13" fill="#1a1a1a" >6</text>
<text x="1211.06" y="383.60" font-family="Liberation Sans" font-weight="bold" font-size="24.5" fill="#111" >F</text>
<text x="1227.37" y="394.50" font-family="Liberation Sans" font-weight="bold" font-size="14.8" fill="#1a1a1a" >11/2</text>
<text x="1203.32" y="394.00" font-family="Liberation Sans" font-weight="bold" font-size="13" fill="#1a1a1a" >6</text>
<text x="1212.06" y="406.50" font-family="Liberation Sans" font-weight="bold" font-size="24.5" fill="#111" >F</text>
<text x="1226.19" y="417.40" font-family="Liberation Sans" font-weight="bold" font-size="14.8" fill="#1a1a1a" >9/2</text>
<text x="1203.92" y="416.40" font-family="Liberation Sans" font-weight="bold" font-size="13" fill="#1a1a1a" >6</text>
<text x="1212.56" y="430.40" font-family="Liberation Sans" font-weight="bold" font-size="24.5" fill="#111" >F</text>
<text x="1227.66" y="441.30" font-family="Liberation Sans" font-weight="bold" font-size="14.8" fill="#1a1a1a" >7/2</text>
<text x="1201.42" y="443.60" font-family="Liberation Sans" font-weight="bold" font-size="13" fill="#1a1a1a" >6</text>
<text x="1209.96" y="457.90" font-family="Liberation Sans" font-weight="bold" font-size="24.5" fill="#111" >H</text>
<text x="1228.37" y="469.30" font-family="Liberation Sans" font-weight="bold" font-size="14.8" fill="#1a1a1a" >13/2</text>
<text x="1200.22" y="460.70" font-family="Liberation Sans" font-weight="bold" font-size="13" fill="#1a1a1a" >6</text>
<text x="1209.96" y="473.90" font-family="Liberation Sans" font-weight="bold" font-size="24.5" fill="#111" >H</text>
<text x="1228.37" y="484.20" font-family="Liberation Sans" font-weight="bold" font-size="14.8" fill="#1a1a1a" >11/2</text>
<text x="1200.22" y="490.00" font-family="Liberation Sans" font-weight="bold" font-size="13" fill="#1a1a1a" >6</text>
<text x="1209.96" y="503.70" font-family="Liberation Sans" font-weight="bold" font-size="24.5" fill="#111" >H</text>
<text x="1227.09" y="514.50" font-family="Liberation Sans" font-weight="bold" font-size="14.8" fill="#1a1a1a" >9/2</text>
<text x="1200.22" y="508.80" font-family="Liberation Sans" font-weight="bold" font-size="13" fill="#1a1a1a" >6</text>
<text x="1209.96" y="503.70" font-family="Liberation Sans" font-weight="bold" font-size="24.5" fill="#111" >H</text>
<text x="1226.96" y="514.50" font-family="Liberation Sans" font-weight="bold" font-size="14.8" fill="#1a1a1a" >7/2</text>
<text x="1200.22" y="508.80" font-family="Liberation Sans" font-weight="bold" font-size="13" fill="#1a1a1a" >6</text>
<text x="1209.96" y="523.70" font-family="Liberation Sans" font-weight="bold" font-size="24.5" fill="#111" >H</text>
<text x="1227.14" y="534.00" font-family="Liberation Sans" font-weight="bold" font-size="14.8" fill="#1a1a1a" >5/2</text>
</g>
</svg></body></html>
